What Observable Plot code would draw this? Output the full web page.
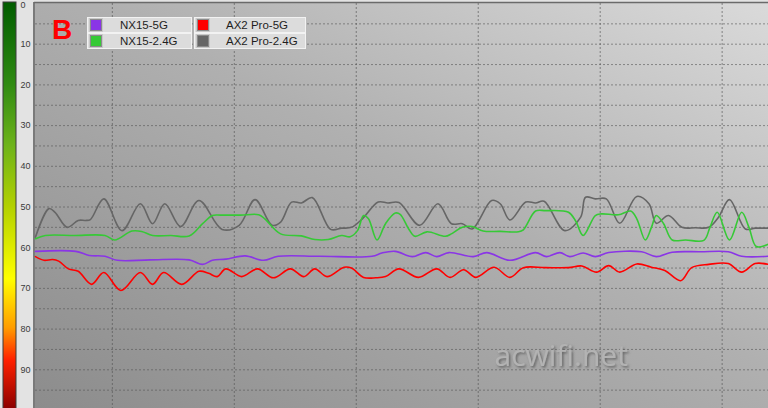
<!DOCTYPE html>
<html><head><meta charset="utf-8">
<script src="https://cdn.jsdelivr.net/npm/d3@7"></script>
<script src="https://cdn.jsdelivr.net/npm/@observablehq/plot@0.6"></script>
<style>
html,body{margin:0;padding:0;background:#e3e3e3;}
#wrap{position:relative;width:768px;height:408px;overflow:hidden;font-family:"Liberation Sans",Arial,sans-serif;}
#wrap svg{position:absolute;left:0;top:0;}
.item{position:absolute;height:14px;background:#dcdcdc;border:1px solid #f2f2f2;box-sizing:content-box;}
.sw{position:absolute;left:2px;top:1px;width:10px;height:10px;border:1px solid #8a8a8a;outline:1px solid #c8c8c8;}
.lab{position:absolute;top:0;line-height:14px;font-size:11.5px;color:#1e1e1e;white-space:nowrap;}
#tagB{position:absolute;left:52px;top:14px;font:bold 28px "Liberation Sans",Arial,sans-serif;color:#ff0000;}
</style></head><body><div id="wrap"></div>
<script>
// Series: time (s) and signal level (-dBm)
const nx5gName = "NX15-5G";
const nx5gT = [3.7,7.0,8.1,9.4,10.4,13.1,16.3,17.4,18.2,19.3,20.9,22.4,23.6,27.0,31.3,32.1,33.2,34.6,35.7,36.6,37.6,39.6,40.7,42.6,44.7,45.6,46.7,47.5,48.6,49.6,50.7,53.4,54.6,55.9,58.2,60.5,61.6,63.8];
const nx5gV = [60.9,60.9,61.9,62.1,63.1,63.0,63.0,64.1,63.1,62.8,62.0,63.1,62.1,62.1,62.1,61.3,60.9,62.2,61.2,62.2,61.2,62.2,61.2,63.1,61.2,62.2,61.2,62.2,61.3,62.2,61.2,61.0,62.2,61.1,61.0,61.0,62.1,62.1];

const nx24Name = "NX15-2.4G";
const nx24T = [3.7,4.5,6.9,9.4,10.2,11.6,12.4,13.3,14.8,16.3,17.4,18.2,18.9,20.5,22.0,22.5,23.8,25.5,26.6,27.7,28.8,29.5,30.1,30.6,31.0,31.7,32.4,33.2,33.6,34.3,34.8,35.8,37.3,37.8,38.7,39.5,40.4,41.8,43.3,43.7,44.7,45.5,47.4,48.0,48.6,49.6,50.1,51.5,52.5,53.0,53.7,54.2,54.6,55.2,55.9,57.0,58.5,59.0,59.6,60.6,61.6,62.2,62.8,63.8];
const nx24V = [57.8,57.0,57.0,57.0,58.1,55.9,56.0,57.0,57.0,57.1,54.1,52.1,52.0,52.0,51.9,52.9,56.6,57.1,58.0,58.0,57.0,57.3,55.8,52.1,52.9,58.1,54.1,51.5,51.8,55.4,57.2,56.1,57.2,56.6,55.0,54.8,55.9,56.0,56.1,55.6,51.0,50.9,51.3,53.5,57.0,52.1,51.7,51.9,51.0,52.9,58.1,55.0,52.1,54.1,58.1,58.1,58.2,55.0,51.3,58.1,51.3,55.0,59.7,59.1];

const ax5gName = "AX2 Pro-5G";
const ax5gT = [3.7,4.4,5.1,5.6,6.4,7.2,8.3,9.3,10.7,12.3,13.3,14.2,15.7,17.1,17.9,18.6,19.3,20.6,21.9,23.2,24.6,25.7,26.6,27.6,29.0,29.6,30.6,31.6,32.4,33.5,35.1,36.6,37.7,38.8,39.8,41.3,42.6,43.7,45.5,47.4,48.5,49.7,50.7,51.6,53.0,54.2,55.3,56.6,57.5,58.9,60.5,61.6,62.7,63.8];
const ax5gV = [62.2,63.1,62.9,63.3,65.2,65.8,69.0,66.1,70.5,66.1,69.0,66.1,69.0,65.8,66.3,67.1,65.2,67.1,65.2,67.4,65.2,67.1,65.2,67.1,64.8,65.0,67.3,67.4,67.1,65.2,67.3,65.2,67.3,65.4,67.3,64.8,67.3,64.9,64.9,64.9,64.5,66.0,64.4,66.0,64.0,64.8,65.6,68.1,64.9,64.1,63.9,66.0,63.9,64.1];

const ax24Name = "AX2 Pro-2.4G";
const ax24T = [3.7,4.8,5.3,6.3,7.2,7.8,8.2,9.3,10.8,12.3,13.3,14.3,15.6,17.1,19.0,20.4,21.7,23.1,23.8,24.7,25.5,26.4,27.9,28.8,29.6,30.5,31.8,32.6,33.5,35.2,36.7,37.8,38.7,39.5,41.1,41.8,42.6,43.9,44.7,45.4,47.1,48.4,48.8,49.6,50.5,51.6,53.0,54.0,54.6,55.6,56.7,57.8,58.9,59.7,60.6,61.9,62.7,63.8];
const ax24V = [57.4,50.4,51.3,55.0,53.3,53.3,53.1,48.0,55.8,49.2,54.1,49.2,54.8,48.4,55.5,54.5,48.2,54.5,53.7,48.8,49.0,47.7,55.5,55.2,55.0,52.9,48.8,49.0,48.9,54.5,49.2,54.1,54.1,55.4,48.4,49.2,53.2,48.8,49.0,48.6,55.8,52.5,47.6,48.0,48.0,54.0,47.4,49.2,54.0,52.1,55.0,55.1,55.0,52.5,48.2,55.4,55.2,55.2];

const legendNames = [nx5gName, ax5gName, nx24Name, ax24Name];
const seriesColors = ["#8a35e6", "#ff0000", "#36c936", "#666666"];
const yTickLabels = [0,10,20,30,40,50,60,70,80,90];
const yGrid = d3.range(5, 100, 5);
const xGrid = [10,20,30,40,50,60];
const watermark = "acwifi.net";

const series = [
  {name: ax24Name, t: ax24T, v: ax24V},
  {name: nx24Name, t: nx24T, v: nx24V},
  {name: nx5gName, t: nx5gT, v: nx5gV},
  {name: ax5gName, t: ax5gT, v: ax5gV}
];
const rows = series.flatMap(s => s.t.map((t, i) => ({t, v: s.v[i], name: s.name})));

const plot = Plot.plot({
  width: 768, height: 408,
  marginLeft: 35, marginRight: 0, marginTop: 3, marginBottom: 0,
  style: {background: "transparent", fontFamily: "Liberation Sans, Arial, sans-serif"},
  x: {domain: [3.7, 63.8], range: [35, 768], axis: null},
  y: {domain: [0, 100], range: [3, 410], axis: null},
  color: {domain: legendNames, range: seriesColors},
  marks: [
    Plot.ruleY(yGrid, {stroke: "#555", strokeOpacity: 0.6, strokeDasharray: "2,2", strokeWidth: 1}),
    Plot.ruleX(xGrid, {stroke: "#555", strokeOpacity: 0.65, strokeDasharray: "2,2", strokeWidth: 1}),
    Plot.line(rows, {x: "t", y: "v", z: "name", stroke: "name", curve: "catmull-rom", strokeWidth: 1.6}),
    Plot.text(yTickLabels.filter(d => d > 0), {y: d => d, text: d => String(d), frameAnchor: "left", dx: -15, textAnchor: "start", fontSize: 9, fill: "#3a3a3a"}),
    Plot.text(yTickLabels.filter(d => d === 0), {y: d => d, text: d => String(d), frameAnchor: "left", dx: -15, dy: 2, textAnchor: "start", fontSize: 9, fill: "#3a3a3a"}),
    Plot.text([watermark], {x: 46.8, y: 86.7, text: d => d, fontSize: 30, fill: "#b3b3b3", fontFamily: "Open Sans, Liberation Sans, sans-serif", textAnchor: "middle"})
  ]
});

const wrap = document.getElementById("wrap");
wrap.appendChild(plot);
const svg = d3.select(plot);
const ys = plot.scale("y");
const defs = svg.insert("defs", ":first-child");
const bg = defs.append("linearGradient").attr("id", "bgGrad").attr("x1", 0).attr("y1", 1).attr("x2", 1).attr("y2", 0);
bg.append("stop").attr("offset", "0%").attr("stop-color", "#8c8c8c");
bg.append("stop").attr("offset", "55%").attr("stop-color", "#b0b0b0");
bg.append("stop").attr("offset", "100%").attr("stop-color", "#dadada");
const cb = defs.append("linearGradient").attr("id", "cbGrad").attr("x1", 0).attr("y1", 0).attr("x2", 0).attr("y2", 1);
[[0,"#005c00"],[0.2,"#2f8a12"],[0.35,"#6db31a"],[0.5,"#b2d000"],[0.68,"#ffff00"],[0.8,"#ff9d00"],[0.88,"#ff2000"],[1,"#8b0000"]]
  .forEach(([o,c]) => cb.append("stop").attr("offset", o).attr("stop-color", c));
const sh = defs.append("filter").attr("id", "shadow").attr("x", "-10%").attr("y", "-20%").attr("width", "130%").attr("height", "160%");
sh.append("feDropShadow").attr("dx", 1.5).attr("dy", 1.5).attr("stdDeviation", 1.2).attr("flood-color", "#555").attr("flood-opacity", 0.8);

// plot background and borders, behind the marks
const bgG = svg.insert("g", "defs + *");
bgG.append("rect").attr("x", 35).attr("y", ys.apply(0)).attr("width", 733).attr("height", 408 - ys.apply(0)).attr("fill", "url(#bgGrad)");
bgG.append("rect").attr("x", 3).attr("y", 2).attr("width", 13).attr("height", 407).attr("fill", "url(#cbGrad)").attr("stroke", "#3c3c3c").attr("stroke-width", 1);
bgG.append("line").attr("x1", 34).attr("x2", 34).attr("y1", 2).attr("y2", 408).attr("stroke", "#7a7a7a").attr("stroke-width", 2);
bgG.append("line").attr("x1", 34).attr("x2", 768).attr("y1", 2.5).attr("y2", 2.5).attr("stroke", "#6a6a6a").attr("stroke-width", 1.5);
svg.selectAll("text").filter(function(){ return this.textContent === watermark; }).attr("filter", "url(#shadow)");

// legend
const legPos = [[87,17],[194,17],[87,33],[194,33]];
const legW = [103, 110, 103, 110];
legendNames.forEach((n, i) => {
  const it = document.createElement("div");
  it.className = "item";
  it.style.left = legPos[i][0] + "px"; it.style.top = legPos[i][1] + "px"; it.style.width = legW[i] + "px";
  const sw = document.createElement("div"); sw.className = "sw"; sw.style.background = seriesColors[i];
  const lb = document.createElement("div"); lb.className = "lab"; lb.textContent = n;
  lb.style.left = (i % 2 === 0 ? 32 : 31) + "px";
  it.appendChild(sw); it.appendChild(lb); wrap.appendChild(it);
});
const b = document.createElement("div"); b.id = "tagB"; b.textContent = "B"; wrap.appendChild(b);
</script>
</body></html>
